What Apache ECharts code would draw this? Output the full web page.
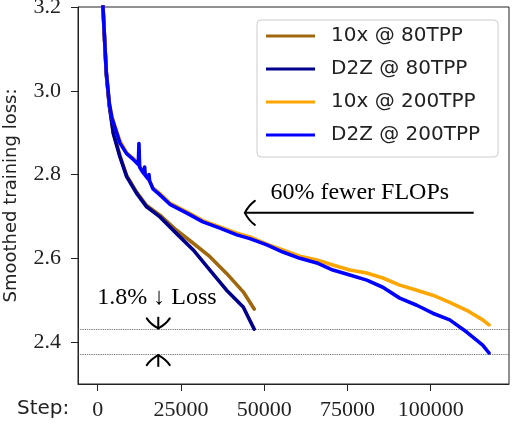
<!DOCTYPE html>
<html>
<head>
<meta charset="utf-8">
<script src="https://cdn.jsdelivr.net/npm/echarts@6/dist/echarts.min.js"></script>
<style>
  html, body { margin:0; padding:0; background:#fff; }
  #chart { width:513px; height:424px; }
</style>
</head>
<body>
<div id="chart"></div>
<script>
// values (step, smoothed loss)
const seriesNames = ['10x @ 80TPP', 'D2Z @ 80TPP', '10x @ 200TPP', 'D2Z @ 200TPP']

const tenx80Steps = [1450, 1600, 2100, 2600, 3500, 4700, 6700, 8700, 11700, 14700, 18700, 23700, 28700, 33700, 38700, 43700, 47000]
const tenx80Loss  = [3.24, 3.20, 3.12, 3.04, 2.965, 2.900, 2.845, 2.798, 2.758, 2.726, 2.703, 2.667, 2.636, 2.604, 2.564, 2.520, 2.479]

const d2z80Steps = [1450, 1600, 2100, 2600, 3500, 4700, 6700, 8700, 11700, 14700, 18700, 23700, 28700, 33700, 38700, 43700, 47000]
const d2z80Loss  = [3.24, 3.20, 3.12, 3.04, 2.965, 2.898, 2.842, 2.795, 2.755, 2.723, 2.699, 2.659, 2.620, 2.572, 2.524, 2.484, 2.431]

const tenx200Steps = [1450, 1600, 2100, 2600, 3500, 4300, 5500, 6700, 8700, 10700,
  12200, 13200, 15200, 16600, 18200, 21700, 26800, 31600, 36700, 41800,
  45700, 50800, 55600, 60700, 65800, 70600, 75700, 80800, 85600, 90700,
  95800, 100600, 105700, 110800, 115600, 117500]
const tenx200Loss = [3.24, 3.20, 3.12, 3.045, 2.970, 2.937, 2.908, 2.880, 2.852, 2.838,
  2.826, 2.812, 2.790, 2.768, 2.758, 2.732, 2.711, 2.690, 2.675, 2.660,
  2.651, 2.634, 2.620, 2.605, 2.596, 2.584, 2.572, 2.565, 2.553, 2.536,
  2.524, 2.512, 2.495, 2.476, 2.453, 2.441]

const d2z200Steps = [1450, 1600, 2100, 2600, 3500, 4300, 5500, 6700, 8700, 10700,
  12200, 12400, 12600, 13200, 13900, 14100, 14300, 15200, 15400, 15600,
  16600, 18200, 21700, 26800, 31600, 36700, 41800, 45700, 50800, 55600,
  60700, 65800, 70600, 75700, 80800, 85600, 90700, 95800, 100600, 105700,
  110800, 115600, 117500]
const d2z200Loss = [3.24, 3.20, 3.12, 3.045, 2.970, 2.935, 2.905, 2.875, 2.850, 2.836,
  2.824, 2.874, 2.818, 2.810, 2.802, 2.818, 2.798, 2.789, 2.800, 2.785,
  2.766, 2.755, 2.729, 2.708, 2.687, 2.672, 2.656, 2.647, 2.632, 2.615,
  2.600, 2.589, 2.572, 2.560, 2.548, 2.531, 2.505, 2.488, 2.469, 2.453,
  2.424, 2.393, 2.374]

const xTicks = [0, 25000, 50000, 75000, 100000]
const yTicks = [2.4, 2.6, 2.8, 3.0, 3.2]
const refLosses = [2.430, 2.373]

// annotations, in data coords
const flopsArrow = { from: [112900, 2.7086], to: [44200, 2.7086] }
const lossArrows = [
  { from: [18200, 2.4604], to: [18200, 2.4327] },
  { from: [18200, 2.341], to: [18200, 2.369] },
]
const flopsLabel = { text: '60% fewer FLOPs', at: [78700, 2.757] }
const lossLabel = { text: '1.8% \u2193 Loss', at: [17800, 2.506] }

const palette = ['#a0680e', '#00008b', '#ffa500', '#0000ff']
const serif = '"Liberation Serif", "DejaVu Serif", serif'
const sans = '"DejaVu Sans", sans-serif'
const ink = '#222'

function zip(xs, ys){
  return xs.map((x, i) => [x, ys[i]])
}

const seriesData = [
  zip(tenx80Steps, tenx80Loss),
  zip(d2z80Steps, d2z80Loss),
  zip(tenx200Steps, tenx200Loss),
  zip(d2z200Steps, d2z200Loss),
]

const chart = echarts.init(document.getElementById('chart'), null, { renderer: 'canvas' })

const series = seriesData.map((data, i) => ({
  name: seriesNames[i],
  type: 'line',
  data,
  showSymbol: false,
  symbol: 'none',
  clip: true,
  color: palette[i],
  lineStyle: { width: 3.6, color: palette[i], join: 'round', cap: 'round' },
  z: 2 + i,
}))

series[0].markLine = {
  silent: true,
  symbol: 'none',
  label: { show: false },
  lineStyle: { type: 'dotted', color: '#555', width: 0.9 },
  data: refLosses.map(v => ({ yAxis: v })),
  z: 1,
}

chart.setOption({
  animation: false,
  backgroundColor: '#fff',
  grid: {
    left: 78, right: 4, top: 7, bottom: 40,
    containLabel: false,
    outerBoundsMode: 'none',
    show: true, borderColor: ink, borderWidth: 1, backgroundColor: 'transparent',
  },
  legend: {
    orient: 'vertical',
    left: 257, top: 20,
    padding: [5, 18, 11, 9],
    itemGap: 11,
    itemWidth: 49,
    itemHeight: 3,
    icon: 'rect',
    borderColor: '#cccccc',
    borderWidth: 1,
    borderRadius: 4,
    backgroundColor: 'rgba(255,255,255,0.8)',
    textStyle: { fontFamily: sans, fontSize: 20, color: ink, lineHeight: 22, padding: [0, 0, 0, 11] },
    data: seriesNames,
  },
  xAxis: {
    type: 'value',
    min: -5900, max: 123500,
    axisLine: { show: true, onZero: false, lineStyle: { color: ink, width: 1 } },
    axisTick: { show: true, length: 7, customValues: xTicks, lineStyle: { color: ink, width: 1 } },
    axisLabel: {
      customValues: xTicks,
      formatter: v => String(v),
      fontFamily: serif, fontSize: 22, color: ink, margin: 15,
    },
    splitLine: { show: false },
  },
  yAxis: {
    type: 'value',
    min: 2.3, max: 3.2,
    name: 'Smoothed training loss:',
    nameLocation: 'middle',
    nameRotate: 90,
    nameGap: 58,
    nameTextStyle: { fontFamily: sans, fontSize: 18, color: ink },
    axisLine: { show: true, onZero: false, lineStyle: { color: ink, width: 1 } },
    axisTick: { show: true, length: 7, customValues: yTicks, lineStyle: { color: ink, width: 1 } },
    axisLabel: {
      customValues: yTicks,
      formatter: v => v.toFixed(1),
      fontFamily: serif, fontSize: 22, color: ink, margin: 17,
    },
    splitLine: { show: false },
  },
  series,
})

// annotations placed through the axes
const toPx = p => chart.convertToPixel({ xAxisIndex: 0, yAxisIndex: 0 }, p)

function arrowGraphics(fromData, toData, headLen, headHalf){
  const a = toPx(fromData)
  const b = toPx(toData)
  const dx = b[0] - a[0], dy = b[1] - a[1]
  const len = Math.hypot(dx, dy) || 1
  const ux = dx / len, uy = dy / len
  const nx = -uy, ny = ux
  const stroke = { stroke: '#000', lineWidth: 2, fill: null, lineCap: 'round' }
  const out = [{
    type: 'line', z: 50, silent: true,
    shape: { x1: a[0], y1: a[1], x2: b[0], y2: b[1] },
    style: { stroke: '#000', lineWidth: 2 },
  }]
  for(const s of [1, -1]){
    out.push({
      type: 'bezierCurve', z: 50, silent: true,
      shape: {
        x1: b[0] - ux * headLen + nx * headHalf * s,
        y1: b[1] - uy * headLen + ny * headHalf * s,
        cpx1: b[0] - ux * headLen * 0.4 + nx * headHalf * 0.65 * s,
        cpy1: b[1] - uy * headLen * 0.4 + ny * headHalf * 0.65 * s,
        x2: b[0], y2: b[1],
      },
      style: stroke,
    })
  }
  return out
}

const flopsPos = toPx(flopsLabel.at)
const lossPos = toPx(lossLabel.at)

chart.setOption({
  graphic: [
    ...arrowGraphics(flopsArrow.from, flopsArrow.to, 10, 12),
    ...lossArrows.flatMap(a => arrowGraphics(a.from, a.to, 10, 11.5)),
    {
      type: 'text', z: 50, silent: true, x: flopsPos[0], y: flopsPos[1],
      style: { text: flopsLabel.text, font: `24px ${serif}`, fill: '#000', align: 'center', verticalAlign: 'middle' },
    },
    {
      type: 'text', z: 50, silent: true, x: lossPos[0], y: lossPos[1],
      style: { text: lossLabel.text, font: `24px ${serif}`, fill: '#000', align: 'center', verticalAlign: 'middle' },
    },
    {
      type: 'text', z: 50, silent: true, left: 17, top: 399,
      style: { text: 'Step:', font: `20px ${sans}`, fill: ink },
    },
  ],
})
</script>
</body>
</html>
